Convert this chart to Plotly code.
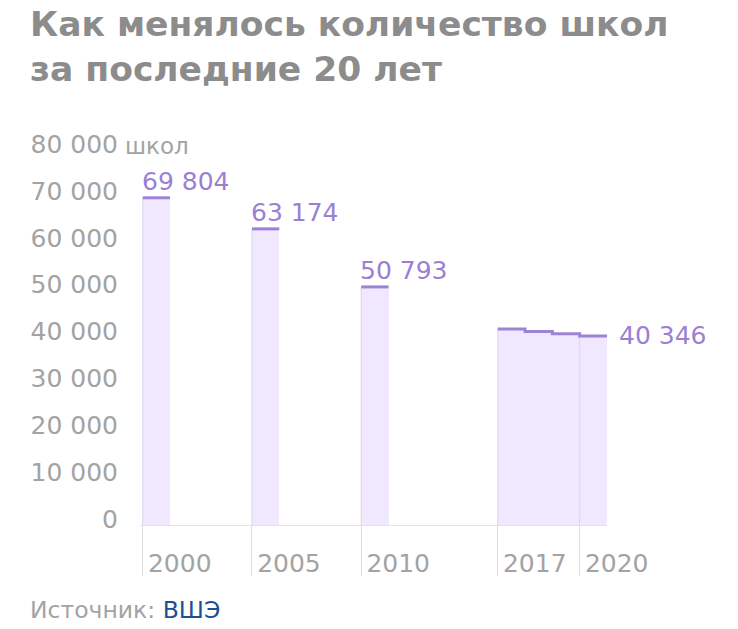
import plotly.graph_objects as go

# ---- data ----
years = [2000, 2005, 2010, 2017, 2018, 2019, 2020]
schools = [69804, 63174, 50793, 41800, 41300, 40800, 40346]
# compressed horizontal slot of each year on the chart's axis
slots = [0, 4, 8, 13, 14, 15, 16]
tick_years = [2000, 2005, 2010, 2017, 2020]
labelled_years = [2000, 2005, 2010]
y_ticks = [0, 10000, 20000, 30000, 40000, 50000, 60000, 70000, 80000]

FILL = "#f0e8fe"
LINE = "#9d82d6"
LABEL = "#9a7fd4"
GREY = "#a3a3a3"
FONT = "DejaVu Sans, sans-serif"

W, H = 738, 629
ML, MR, MT, MB = 140, 131, 150, 104
PH = H - MT - MB


def fmt(v):
    return f"{v:,}".replace(",", " ")


def py(pix):
    """pixel row -> paper y"""
    return (H - MB - pix) / PH


def px(pix):
    """pixel column -> paper x"""
    return (pix - ML) / (W - ML - MR)


slot_of = dict(zip(years, slots))
val_of = dict(zip(years, schools))

fig = go.Figure()

# bars (one slot wide, starting at the slot)
fig.add_trace(go.Bar(
    x=slots, y=schools, width=1, offset=0,
    marker=dict(color=FILL, line=dict(width=0)),
    hoverinfo="skip", showlegend=False,
))

# thin vertical lines at tick positions inside the bars
vx, vy = [], []
for yr in tick_years:
    vx += [slot_of[yr], slot_of[yr], None]
    vy += [0, val_of[yr], None]
fig.add_trace(go.Scatter(
    x=vx, y=vy, mode="lines",
    line=dict(color="#dcd5e8", width=1),
    hoverinfo="skip", showlegend=False,
))

# step line along bar tops
lx, ly = [], []
for i, (s, v) in enumerate(zip(slots, schools)):
    lx.append(s)
    ly.append(v)
    nxt = slots[i + 1] if i + 1 < len(slots) else None
    if nxt != s + 1:
        lx += [s + 1, None]
        ly += [v, None]
fig.add_trace(go.Scatter(
    x=lx, y=ly, mode="lines", line=dict(color=LINE, width=3, shape="hv"),
    hoverinfo="skip", showlegend=False, cliponaxis=False,
))

annotations = []
for yr in labelled_years:
    annotations.append(dict(
        x=slot_of[yr], y=val_of[yr], xref="x", yref="y",
        text=fmt(val_of[yr]), showarrow=False,
        xanchor="left", yanchor="bottom", xshift=-3, yshift=0,
        font=dict(family=FONT, size=25, color=LABEL),
    ))
last = years[-1]
annotations.append(dict(
    x=slot_of[last] + 1, y=val_of[last], xref="x", yref="y",
    text=fmt(val_of[last]), showarrow=False,
    xanchor="left", yanchor="middle", xshift=10, yshift=0,
    font=dict(family=FONT, size=25, color=LABEL),
))
# unit label next to top tick
annotations.append(dict(
    x=px(123), y=1.0, xref="paper", yref="paper",
    text="школ", showarrow=False, xanchor="left", yanchor="middle",
    yshift=4,
    font=dict(family=FONT, size=23, color=GREY),
))
# title
annotations.append(dict(
    x=px(28), y=py(2), xref="paper", yref="paper",
    text="<b>Как менялось количество школ<br>за последние 20 лет</b>",
    showarrow=False, xanchor="left", yanchor="top", align="left",
    font=dict(family=FONT, size=34.5, color="#8c8c8c"),
))
# source
annotations.append(dict(
    x=px(28), y=py(610), xref="paper", yref="paper",
    text='Источник: <span style="color:#1d4f91">ВШЭ</span>',
    showarrow=False, xanchor="left", yanchor="middle",
    font=dict(family=FONT, size=23.5, color=GREY),
))

fig.update_layout(
    width=W, height=H,
    margin=dict(l=ML, r=MR, t=MT, b=MB, autoexpand=False),
    paper_bgcolor="white", plot_bgcolor="white",
    annotations=annotations,
    bargap=0,
    xaxis=dict(
        range=[-0.1, 17], showgrid=False, zeroline=False,
        showline=True, linecolor="#e3e3e3", linewidth=1,
        tickmode="array", tickvals=[slot_of[y] for y in tick_years],
        ticktext=[str(y) for y in tick_years],
        ticks="outside", ticklen=50, tickcolor="#dddddd", tickwidth=1,
        ticklabelshift=37, ticklabelstandoff=-34,
        tickfont=dict(family=FONT, size=25, color=GREY),
        fixedrange=True,
    ),
    yaxis=dict(
        range=[0, 80000], showgrid=False, zeroline=False, showline=False,
        tickmode="array", tickvals=y_ticks,
        ticktext=[fmt(v) for v in y_ticks],
        ticks="", ticklabelstandoff=21, ticklabelshift=-6,
        tickfont=dict(family=FONT, size=25, color=GREY),
        fixedrange=True,
    ),
)

fig.write_html(
    "out.html",
    config={"displayModeBar": False},
    post_script="document.body.style.margin='0';document.body.style.overflow='hidden';",
)
